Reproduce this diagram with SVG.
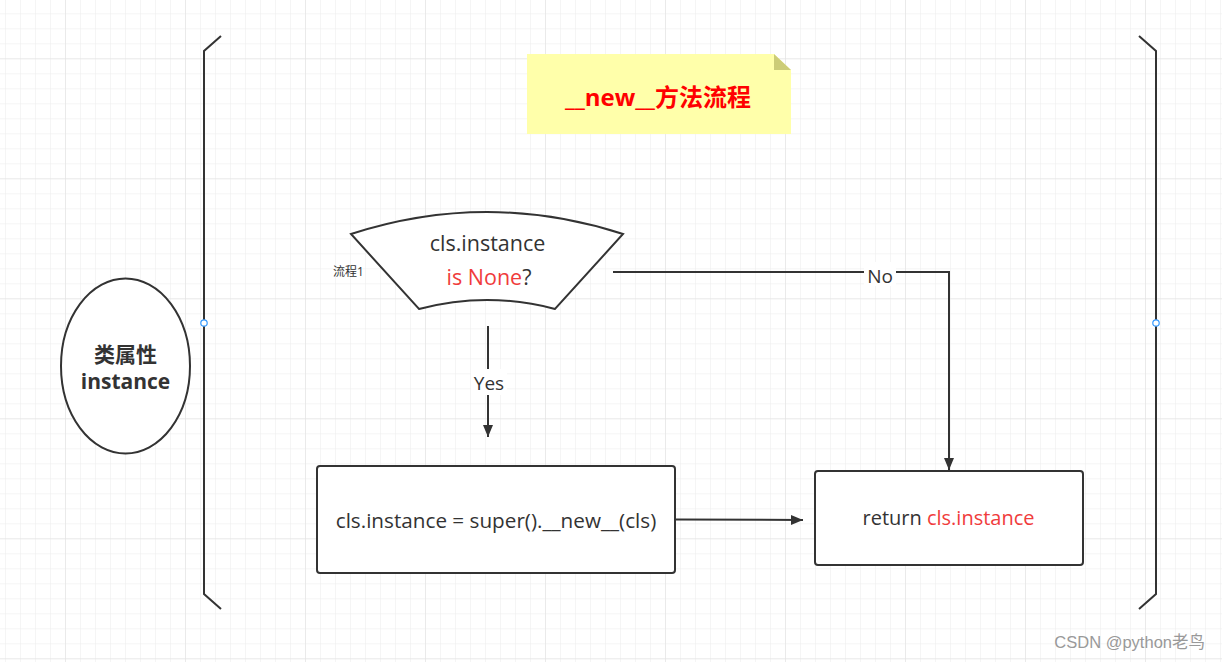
<svg xmlns="http://www.w3.org/2000/svg" width="1222" height="662" viewBox="0 0 1222 662">
  <defs>
    <pattern id="minor" x="5" y="13.3" width="15" height="15" patternUnits="userSpaceOnUse">
      <path d="M0,0 H15 M0,0 V15" fill="none" stroke="#ececec" stroke-width="1"/>
    </pattern>
    <pattern id="major" x="65" y="58.3" width="120" height="120" patternUnits="userSpaceOnUse">
      <path d="M0,0 H120 M0,0 V120" fill="none" stroke="#e0e0e0" stroke-width="1"/>
    </pattern>
    <marker id="arrow" viewBox="0 0 12 12" refX="12" refY="6" markerWidth="12" markerHeight="12" markerUnits="userSpaceOnUse" orient="auto">
      <path d="M0,1 L12,6 L0,11 Z" fill="#333333"/>
    </marker>
  </defs>
  <style>
    .t { font-family: "Open Sans", "Noto Sans CJK SC", sans-serif; fill: #333333; }
    .red { fill: #f03c3c; }
    .shape { fill: #ffffff; stroke: #333333; stroke-width: 2; }
    .line { fill: none; stroke: #333333; stroke-width: 2; }
  </style>
  <rect width="1222" height="662" fill="#ffffff"/>
  <rect width="1222" height="662" fill="url(#minor)"/>
  <rect width="1222" height="662" fill="url(#major)"/>

  <g id="bracket-left">
    <path class="line" d="M221,36 L204,51 L204,594 L221,609"/>
    <circle cx="204" cy="323" r="3.2" fill="#ffffff" stroke="#3399ff" stroke-width="1.2"/>
  </g>
  <g id="bracket-right">
    <path class="line" d="M1139,36 L1156,51 L1156,594 L1139,609"/>
    <circle cx="1156" cy="323" r="3.2" fill="#ffffff" stroke="#3399ff" stroke-width="1.2"/>
  </g>

  <g id="note">
    <path d="M527,54 H774 L791,70 V134 H527 Z" fill="#ffffaa"/>
    <path d="M774,54 L791,70 H774 Z" fill="#cccc77"/>
    <text class="t" x="658" y="106" text-anchor="middle" font-size="24" font-weight="bold" style="fill:#ff0000">__new__方法流程</text>
  </g>

  <g id="class-attr">
    <ellipse class="shape" cx="125.5" cy="366" rx="64.5" ry="87.5"/>
    <text class="t" x="125.5" y="362" text-anchor="middle" font-size="21" font-weight="bold">类属性</text>
    <text class="t" x="125.5" y="389" text-anchor="middle" font-size="21" font-weight="bold">instance</text>
  </g>

  <g id="decision">
    <path class="shape" d="M351,234 Q487,190 623,234 L555,309 Q487,291 419,309 Z"/>
    <text class="t" x="487.5" y="251" text-anchor="middle" font-size="21.5">cls.instance</text>
    <text class="t" x="489" y="285" text-anchor="middle" font-size="21.5"><tspan class="red">is None</tspan>?</text>
    <text class="t" x="333" y="276" font-size="12">流程1</text>
  </g>

  <g id="create">
    <rect class="shape" x="317" y="466" width="358" height="107" rx="3"/>
    <text class="t" x="496" y="528" text-anchor="middle" font-size="20.7">cls.instance = super().__new__(cls)</text>
  </g>

  <g id="return">
    <rect class="shape" x="815" y="471" width="268" height="94" rx="3"/>
    <text class="t" x="948.5" y="525" text-anchor="middle" font-size="20">return <tspan class="red">cls.instance</tspan></text>
  </g>

  <g id="connectors">
    <path class="line" d="M488,326 V437" marker-end="url(#arrow)"/>
    <rect x="471" y="369" width="36" height="26" fill="#ffffff"/>
    <text class="t" x="489" y="390" text-anchor="middle" font-size="19">Yes</text>
    <path class="line" d="M613,272 H949 V470" marker-end="url(#arrow)"/>
    <rect x="864" y="262" width="32" height="24" fill="#ffffff"/>
    <text class="t" x="880" y="283" text-anchor="middle" font-size="19">No</text>
    <path class="line" d="M676,519.5 L803,520" marker-end="url(#arrow)"/>
  </g>

  <text x="1205" y="648" text-anchor="end" font-family="'Liberation Sans', 'Noto Sans CJK SC', sans-serif" font-size="16.5" fill="#999999">CSDN @python老鸟</text>
</svg>
